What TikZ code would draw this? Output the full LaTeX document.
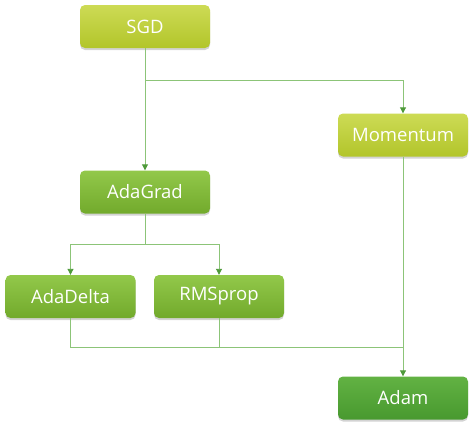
\documentclass[tikz,border=0pt]{standalone}
\usepackage{fontspec}
\setmainfont{Open Sans}
\usetikzlibrary{arrows.meta,shadows,shadings}
\definecolor{ygtop}{HTML}{CDDB55}
\definecolor{ygbot}{HTML}{B2C52A}
\definecolor{gtop}{HTML}{92C84A}
\definecolor{gbot}{HTML}{72AA2C}
\definecolor{dtop}{HTML}{62B243}
\definecolor{dbot}{HTML}{48992F}
\definecolor{linec}{HTML}{8CC478}
\definecolor{tipc}{HTML}{4E9A3A}
\tikzset{
  box/.style={rounded corners=5pt, minimum width=130pt, minimum height=43pt,
    text=white, font=\fontsize{18.5}{22}\selectfont, inner sep=0pt,
    drop shadow={shadow xshift=0pt, shadow yshift=-2pt, opacity=0.35, fill=gray}},
  ybox/.style={box, top color=ygtop, bottom color=ygbot},
  gbox/.style={box, top color=gtop, bottom color=gbot},
  dbox/.style={box, top color=dtop, bottom color=dbot},
  conn/.style={draw=linec, line width=0.9pt},
  arr/.style={conn, -{Triangle[width=6pt,length=6pt,color=tipc]}}
}
\begin{document}
\begin{tikzpicture}[x=1pt,y=-1pt]
\useasboundingbox (0,0) rectangle (474,429);
\node[ybox] (sgd) at (145,26.5) {SGD};
\node[ybox] (mom) at (403,135) {Momentum};
\node[gbox] (ada) at (145,192) {AdaGrad};
\node[gbox] (adel) at (70.5,296.5) {AdaDelta};
\node[gbox] (rms) at (219,296.5) {RMSprop};
\node[dbox] (adam) at (403,398) {Adam};
\coordinate (j1) at (145,80);
\coordinate (j2) at (145,244);
\coordinate (j3) at (403,347);
\draw[arr] (sgd.south) -- (ada.north);
\draw[arr] (j1) -| (mom.north);
\draw[conn] (ada.south) -- (j2);
\draw[arr] (j2) -| (adel.north);
\draw[arr] (j2) -| (rms.north);
\draw[conn] (adel.south) |- (j3);
\draw[conn] (rms.south) -- (rms.south |- j3);
\draw[arr] (mom.south) -- (adam.north);
\end{tikzpicture}
\end{document}
